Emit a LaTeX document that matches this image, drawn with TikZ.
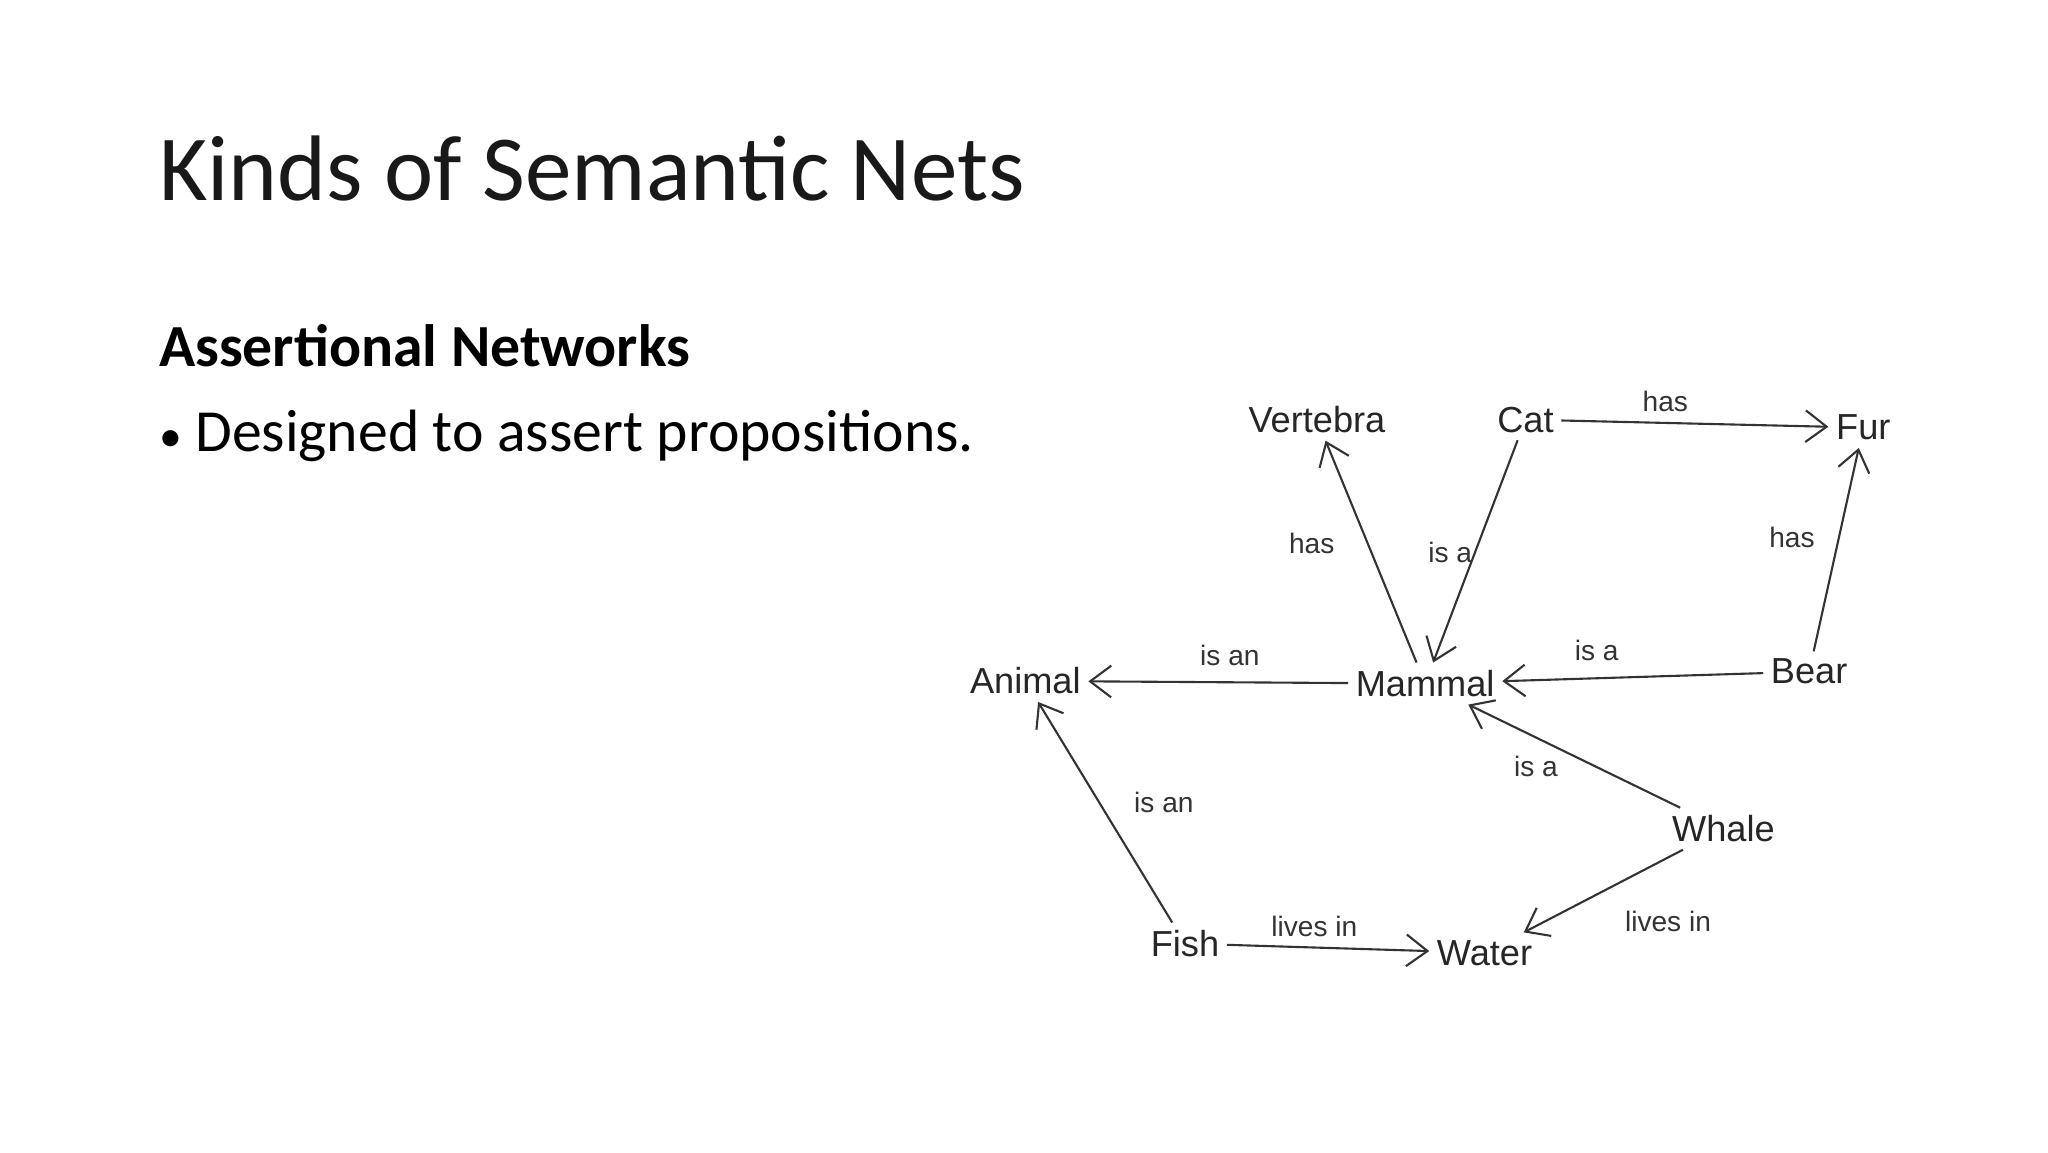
\documentclass[tikz,border=0pt]{standalone}
\usepackage{fontspec}
\setmainfont{Carlito}
\newfontfamily\arial{Liberation Sans}
\usetikzlibrary{arrows.meta}
\begin{document}
\begin{tikzpicture}[x=0.013196cm,y=-0.013196cm,
  nd/.style={font=\arial\fontsize{10.3}{12}\selectfont,text=black!85,inner sep=2pt},
  el/.style={font=\arial\fontsize{8}{10}\selectfont,text=black!80,inner sep=1pt},
  ar/.style={draw=black!80,line width=0.6pt,-{Straight Barb[length=6pt,width=9pt]}}]
\useasboundingbox[fill=white] (0,0) rectangle (1552,873);
\node[anchor=base west,inner sep=0,text=black!90,font=\fontsize{26.5}{30}\selectfont] (title) at (120,152) {Kinds of Semantic Nets};
\node[anchor=base west,inner sep=0,font=\bfseries\fontsize{17}{20}\selectfont] (sub) at (120,278) {Assertional Networks};
\node[anchor=base west,inner sep=0,font=\fontsize{17}{20}\selectfont] (bul) at (120,342) {{\fontsize{13}{15}\selectfont\textbullet}\ Designed to assert propositions.};
\node[nd] (vert) at (998,318) {Vertebra};
\node[nd] (cat) at (1156,318) {Cat};
\node[nd] (fur) at (1412,324) {Fur};
\node[nd] (animal) at (777,516) {Animal};
\node[nd] (mammal) at (1080,518) {Mammal};
\node[nd] (bear) at (1371,509) {Bear};
\node[nd] (whale) at (1306,628) {Whale};
\node[nd] (fish) at (898,715) {Fish};
\node[nd] (water) at (1125,722) {Water};
\draw[ar] (cat) -- (fur);
\draw[ar] (mammal) -- (vert);
\draw[ar] (cat) -- (mammal);
\draw[ar] (bear) -- (fur);
\draw[ar] (mammal) -- (animal);
\draw[ar] (bear) -- (mammal);
\draw[ar] (whale) -- (mammal);
\draw[ar] (fish) -- (animal);
\draw[ar] (fish) -- (water);
\draw[ar] (whale) -- (water);
\node[el] (l1) at (1262,304) {has};
\node[el] (l2) at (994,412) {has};
\node[el] (l3) at (1099,419) {is a};
\node[el] (l4) at (1358,407) {has};
\node[el] (l5) at (932,497) {is an};
\node[el] (l6) at (1210,493) {is a};
\node[el] (l7) at (1164,581) {is a};
\node[el] (l8) at (882,608) {is an};
\node[el] (l9) at (996,702) {lives in};
\node[el] (l10) at (1264,698) {lives in};
\end{tikzpicture}
\end{document}
